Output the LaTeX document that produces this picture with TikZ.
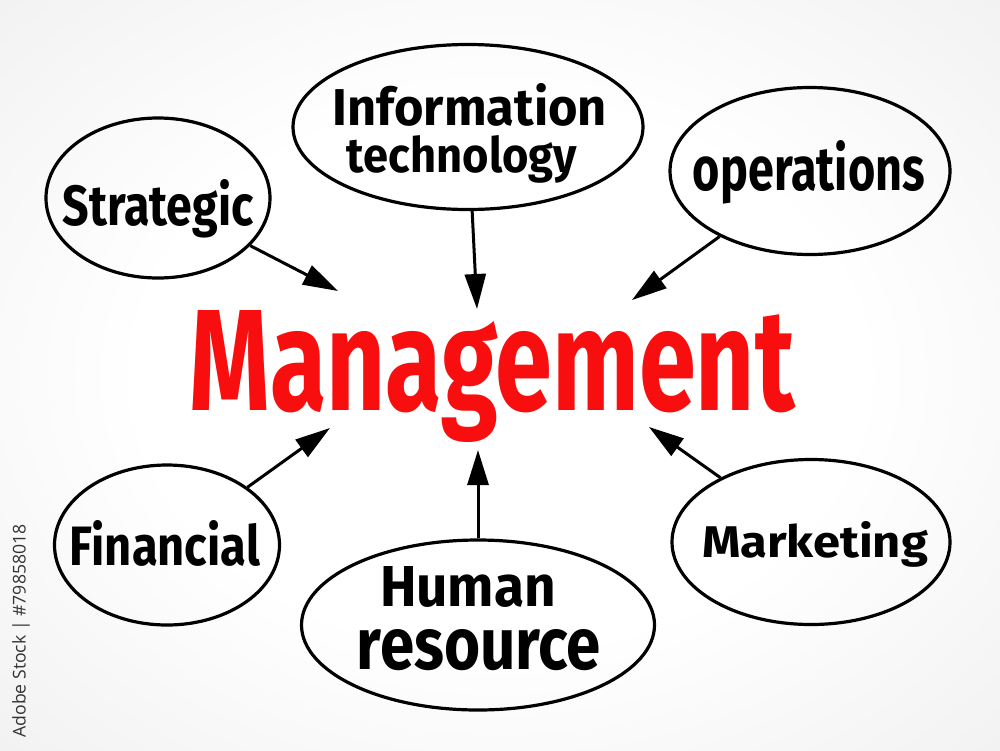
\documentclass[tikz,border=0pt]{standalone}
\usepackage{fontspec}
\setmainfont{Fira Sans}
\newfontfamily\wmfont{Open Sans}
\usetikzlibrary{arrows.meta,shapes.geometric}
\newcommand{\fitbox}[3]{\resizebox{#1pt}{#2pt}{#3}}
\pgfdeclareradialshading{bgshade}{\pgfpoint{0bp}{0bp}}{color(0bp)=(white); color(18bp)=(white); color(72bp)=(black!16)}
\definecolor{mgred}{RGB}{248,14,14}
\begin{document}
\begin{tikzpicture}[x=1pt,y=-1pt,
  bubble/.style={draw=black, line width=3.2pt, ellipse, inner sep=0pt},
  lbl/.style={anchor=base, inner sep=0pt, font=\bfseries},
  arr/.style={line width=3pt, -{Triangle[length=35pt,width=21pt]}},
  ]
\useasboundingbox (0,0) rectangle (1000,750);
\shade[shading=bgshade] (0,0) rectangle (1000,750);

% bubbles
\node[bubble, minimum width=224pt, minimum height=160pt] (strat) at (158,198) {};
\node[bubble, minimum width=350pt, minimum height=165pt] (it) at (468,127) {};
\node[bubble, minimum width=280pt, minimum height=167pt] (ops) at (810,171) {};
\node[bubble, minimum width=225pt, minimum height=160pt] (fin) at (167,545) {};
\node[bubble, minimum width=353pt, minimum height=170pt] (hum) at (478,625) {};
\node[bubble, minimum width=278pt, minimum height=165pt] (mkt) at (811,542) {};

% labels
\node[lbl] (stratT) at (158,225) {\fitbox{191}{46}{Strategic}};
\node[lbl] (itT1) at (470,125) {\fitbox{274}{42}{Information}};
\node[lbl] (itT2) at (462,172) {\fitbox{230}{37}{technology}};
\node[lbl] (opsT) at (809,190) {\fitbox{232}{50}{operations}};
\node[lbl] (finT) at (165,565) {\fitbox{190}{45}{Financial}};
\node[lbl] (humT1) at (468,606) {\fitbox{176}{40}{Human}};
\node[lbl] (humT2) at (479,669) {\fitbox{244}{40}{resource}};
\node[lbl] (mktT) at (815,557) {\fitbox{226}{36}{Marketing}};

\node[lbl, text=mgred] (mgmt) at (492,410) {\fitbox{605}{100}{Management}};

% arrow tips
\coordinate (tS) at (338,291);
\coordinate (tIT) at (477,309);
\coordinate (tOp) at (632,300);
\coordinate (tFi) at (330,428);
\coordinate (tHu) at (478,450);
\coordinate (tMk) at (649,427);

\draw[arr] (strat) -- (tS);
\draw[arr] (it) -- (tIT);
\draw[arr] (ops) -- (tOp);
\draw[arr] (fin) -- (tFi);
\draw[arr] (hum) -- (tHu);
\draw[arr] (mkt) -- (tMk);

% watermark
\node[rotate=90, inner sep=0pt, text=black!80, font=\wmfont] (wm) at (21,631) {\resizebox{213pt}{!}{Adobe Stock | \#79858018}};
\end{tikzpicture}
\end{document}
